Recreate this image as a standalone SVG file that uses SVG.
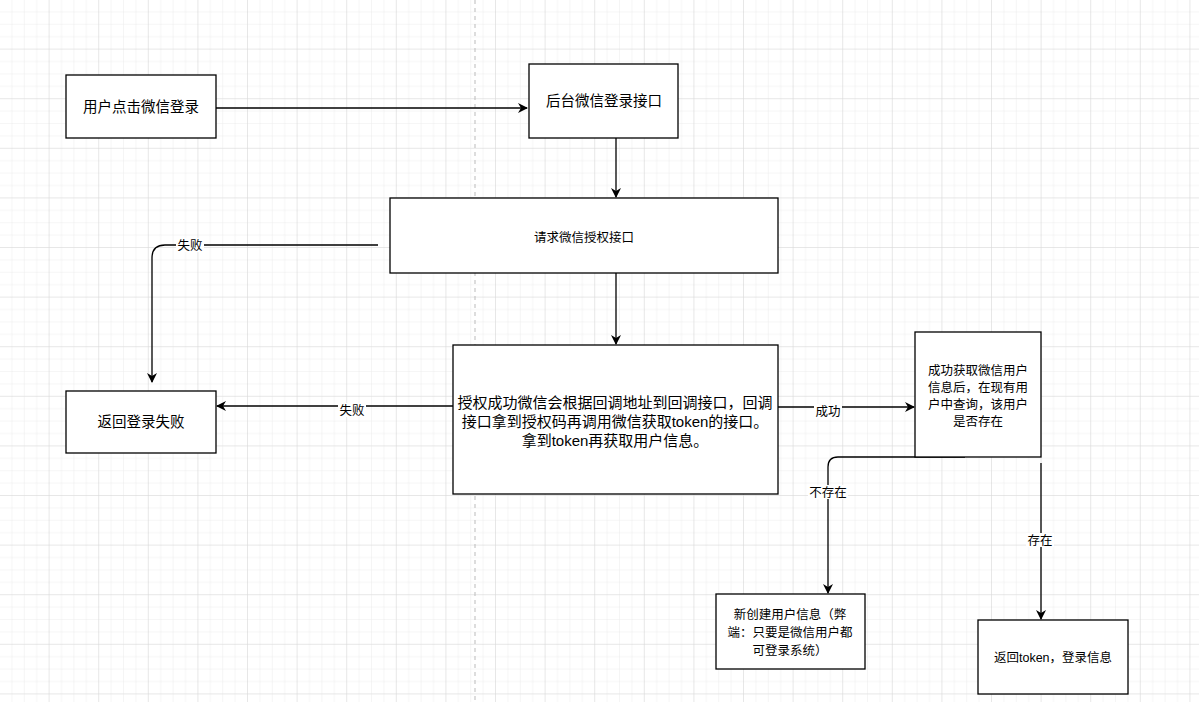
<svg xmlns="http://www.w3.org/2000/svg" width="1199" height="702" viewBox="0 0 1199 702">
<defs>
<pattern id="minor" width="12.4" height="12.4" patternUnits="userSpaceOnUse"><path d="M12.4 0V12.4H0" fill="none" stroke="#ebebeb" stroke-width="1"/></pattern>
<pattern id="major" width="49.6" height="49.6" patternUnits="userSpaceOnUse"><rect width="49.6" height="49.6" fill="url(#minor)"/><path d="M49.6 0V49.6H0" fill="none" stroke="#d8d8d8" stroke-width="1"/></pattern>
<marker id="ah" markerWidth="10" markerHeight="10" refX="9" refY="5" orient="auto" markerUnits="userSpaceOnUse"><path d="M0 0L10 5L0 10L3 5Z" fill="#000"/></marker>
</defs>
<style>
.box{fill:#fff;stroke:#000;stroke-width:1.3}
.t{font-family:"Liberation Sans","Noto Sans CJK SC",sans-serif;font-size:14.5px;fill:#000;text-anchor:middle}
.d{font-size:15px}
.s{font-size:12.5px}
.ln{fill:none;stroke:#000;stroke-width:1.3}
.lb{font-family:"Liberation Sans","Noto Sans CJK SC",sans-serif;font-size:12.5px;fill:#000;text-anchor:middle}
</style>
<rect width="1199" height="702" fill="#fff"/>
<rect width="1199" height="702" fill="url(#major)"/>
<line x1="475" y1="0" x2="475" y2="702" stroke="#bbb" stroke-dasharray="4 4"/>
<g id="connectors">
<path class="ln" d="M216 108H527" marker-end="url(#ah)"/>
<path class="ln" d="M616 138V197" marker-end="url(#ah)"/>
<path class="ln" d="M378 245H165Q152 245 152 258V382" marker-end="url(#ah)"/>
<path class="ln" d="M616 273V344" marker-end="url(#ah)"/>
<path class="ln" d="M453 406H217" marker-end="url(#ah)"/>
<path class="ln" d="M778 407H914" marker-end="url(#ah)"/>
<path class="ln" d="M965 457H838Q828 457 828 467V593" marker-end="url(#ah)"/>
<path class="ln" d="M1041 463V619" marker-end="url(#ah)"/>
<rect x="176" y="238" width="28" height="14" fill="#fff"/><text class="lb" x="190" y="250">失败</text>
<rect x="338" y="403" width="28" height="14" fill="#fff"/><text class="lb" x="352" y="415">失败</text>
<rect x="814" y="404" width="28" height="14" fill="#fff"/><text class="lb" x="828" y="416">成功</text>
<rect x="808" y="485" width="40" height="14" fill="#fff"/><text class="lb" x="828" y="497">不存在</text>
<rect x="1026" y="533" width="28" height="14" fill="#fff"/><text class="lb" x="1040" y="545">存在</text>
</g>
<g id="n1"><rect class="box" x="66" y="75" width="150" height="63"/><text class="t" x="141" y="112">用户点击微信登录</text></g>
<g id="n2"><rect class="box" x="529" y="64" width="149" height="74"/><text class="t" x="604" y="106">后台微信登录接口</text></g>
<g id="n3"><rect class="box" x="390" y="198" width="388" height="75"/><text class="t s" x="584" y="242">请求微信授权接口</text></g>
<g id="n4"><rect class="box" x="453" y="345" width="325" height="149"/><text class="t d" x="615" y="408">授权成功微信会根据回调地址到回调接口，回调</text><text class="t d" x="615" y="427">接口拿到授权码再调用微信获取token的接口。</text><text class="t d" x="615" y="446">拿到token再获取用户信息。</text></g>
<g id="n5"><rect class="box" x="66" y="391" width="150" height="62"/><text class="t" x="141" y="427">返回登录失败</text></g>
<g id="n6"><rect class="box" x="915" y="332" width="126" height="125"/><text class="t s" x="978" y="375">成功获取微信用户</text><text class="t s" x="978" y="392">信息后，在现有用</text><text class="t s" x="978" y="409">户中查询，该用户</text><text class="t s" x="978" y="426">是否存在</text></g>
<g id="n7"><rect class="box" x="716" y="594" width="149" height="75"/><text class="t s" x="790" y="619">新创建用户信息（弊</text><text class="t s" x="790" y="637">端：只要是微信用户都</text><text class="t s" x="790" y="655">可登录系统）</text></g>
<g id="n8"><rect class="box" x="978" y="620" width="150" height="74"/><text class="t s" x="1053" y="662">返回token，登录信息</text></g>
</svg>
